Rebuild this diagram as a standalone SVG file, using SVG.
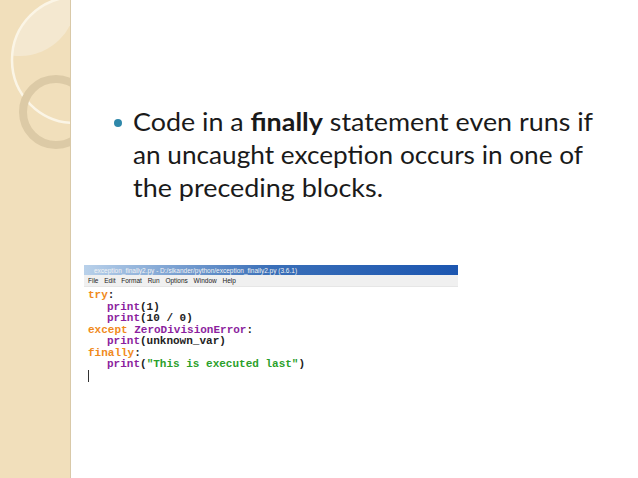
<svg xmlns="http://www.w3.org/2000/svg" width="638" height="478" viewBox="0 0 638 478">
<defs>
<clipPath id="band"><rect x="0" y="0" width="70" height="478"/></clipPath>
<clipPath id="big"><circle cx="75" cy="60" r="63"/></clipPath>
<linearGradient id="tb" x1="0" x2="1"><stop offset="0" stop-color="#b9d1ea"/><stop offset="0.5" stop-color="#3a6fb8"/><stop offset="1" stop-color="#1c56b0"/></linearGradient>
<style>
.b{font-family:Lato,"Liberation Sans",sans-serif;font-size:25px;fill:#1a1a1a}
.c{font-family:"Liberation Mono",monospace;font-size:11px;font-weight:bold}
.k{fill:#f08a1c}.p{fill:#8b1f9e}.t{fill:#222}.s{fill:#2aa02a}
.m{font-family:"Liberation Sans",sans-serif;font-size:6.5px;fill:#222}
</style>
</defs>
<rect width="638" height="478" fill="#fff"/>
<g id="band-deco" clip-path="url(#band)">
<rect width="70" height="478" fill="#f1dfbb"/>
<g clip-path="url(#big)"><circle cx="20" cy="0" r="56" fill="#f4e8d0"/></g>
<circle cx="75" cy="60" r="63" fill="none" stroke="#fbf5e6" stroke-width="2.5"/>
<circle cx="56" cy="112" r="33" fill="none" stroke="#dccaa6" stroke-width="8"/>
</g>
<line x1="70.5" y1="0" x2="70.5" y2="478" stroke="#d9c9a8" stroke-width="1"/>
<g id="bullet-text">
<circle cx="118" cy="123" r="4" fill="#2f88aa"/>
<text class="b" x="133" y="131" textLength="460" lengthAdjust="spacingAndGlyphs">Code in a <tspan font-weight="bold">finally</tspan> statement even runs if</text>
<text class="b" x="133" y="164" textLength="450" lengthAdjust="spacingAndGlyphs">an uncaught exception occurs in one of</text>
<text class="b" x="133" y="197" textLength="250" lengthAdjust="spacingAndGlyphs">the preceding blocks.</text>
</g>
<g id="code-screenshot">
<rect x="84" y="265" width="374" height="123" fill="#fff"/>
<rect x="84" y="265" width="374" height="10" fill="url(#tb)"/>
<text class="m" x="94" y="272.5" style="fill:#f4f4f4">exception_finally2.py - D:/sikander/python/exception_finally2.py (3.6.1)</text>
<rect x="84" y="275" width="374" height="11" fill="#f0f0f0"/>
<text class="m" x="88" y="283" word-spacing="4">File Edit Format Run Options Window Help</text>
<line x1="84" y1="286.5" x2="458" y2="286.5" stroke="#ccc" stroke-width="0.5"/>
<text class="c" x="88" y="298"><tspan class="k">try</tspan><tspan class="t">:</tspan></text>
<text class="c" x="107" y="309.5"><tspan class="p">print</tspan><tspan class="t">(1)</tspan></text>
<text class="c" x="107" y="321"><tspan class="p">print</tspan><tspan class="t">(10 / 0)</tspan></text>
<text class="c" x="88" y="332.5"><tspan class="k">except</tspan> <tspan class="p">ZeroDivisionError</tspan><tspan class="t">:</tspan></text>
<text class="c" x="107" y="344"><tspan class="p">print</tspan><tspan class="t">(unknown_var)</tspan></text>
<text class="c" x="88" y="355.5"><tspan class="k">finally</tspan><tspan class="t">:</tspan></text>
<text class="c" x="107" y="367"><tspan class="p">print</tspan><tspan class="t">(</tspan><tspan class="s">"This is executed last"</tspan><tspan class="t">)</tspan></text>
<line x1="88.5" y1="370" x2="88.5" y2="382" stroke="#333" stroke-width="1"/>
</g>
</svg>
